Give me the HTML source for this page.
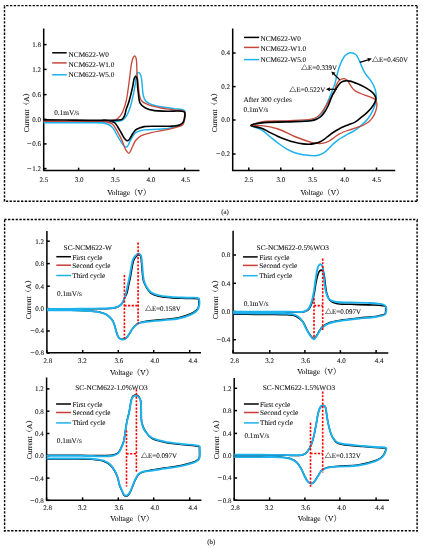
<!DOCTYPE html>
<html><head><meta charset="utf-8"><style>
html,body{margin:0;padding:0;background:#fff;}
svg{display:block;}
text{font-family:'Liberation Serif','Noto Serif CJK SC',serif;fill:#111;stroke:#111;stroke-width:0.08px;text-rendering:geometricPrecision;}
</style></head><body>
<svg width="423" height="550" viewBox="0 0 423 550">
<rect width="423" height="550" fill="#fff"/>
<path d="M3.80 5.60L417.80 5.60" stroke="#000" stroke-width="1.40" stroke-dasharray="2.30 1.485" stroke-dashoffset="1.435"/>
<path d="M3.80 201.30L417.80 201.30" stroke="#000" stroke-width="1.40" stroke-dasharray="2.30 1.485" stroke-dashoffset="1.735"/>
<path d="M4.50 4.90L4.50 202.00" stroke="#000" stroke-width="1.40" stroke-dasharray="2.30 1.482" stroke-dashoffset="2.532"/>
<path d="M417.10 4.90L417.10 202.00" stroke="#000" stroke-width="1.40" stroke-dasharray="2.30 1.482" stroke-dashoffset="2.532"/>
<path d="M3.90 219.50L417.80 219.50" stroke="#000" stroke-width="1.40" stroke-dasharray="2.30 1.485" stroke-dashoffset="3.435"/>
<path d="M3.90 530.80L417.80 530.80" stroke="#000" stroke-width="1.40" stroke-dasharray="2.30 1.485" stroke-dashoffset="0.350"/>
<path d="M4.60 218.80L4.60 531.50" stroke="#000" stroke-width="1.40" stroke-dasharray="2.30 1.482" stroke-dashoffset="2.532"/>
<path d="M417.10 218.80L417.10 531.50" stroke="#000" stroke-width="1.40" stroke-dasharray="2.30 1.482" stroke-dashoffset="2.532"/>
<text x="225.0" y="213.5" font-size="6.80" text-anchor="middle">(a)</text>
<text x="211.3" y="543.6" font-size="6.80" text-anchor="middle">(b)</text>
<path d="M43.7 28.4V170.6H199.5" fill="none" stroke="#000" stroke-width="1.50"/>
<path d="M43.7 44.6h2.9" stroke="#000" stroke-width="1.50"/>
<text x="40.9" y="47.0" font-size="7.00" text-anchor="end">1.8</text>
<path d="M43.7 69.4h2.9" stroke="#000" stroke-width="1.50"/>
<text x="40.9" y="71.8" font-size="7.00" text-anchor="end">1.2</text>
<path d="M43.7 94.6h2.9" stroke="#000" stroke-width="1.50"/>
<text x="40.9" y="97.0" font-size="7.00" text-anchor="end">0.6</text>
<path d="M43.7 119.4h2.9" stroke="#000" stroke-width="1.50"/>
<text x="40.9" y="121.8" font-size="7.00" text-anchor="end">0.0</text>
<path d="M43.7 143.9h2.9" stroke="#000" stroke-width="1.50"/>
<text x="40.9" y="146.3" font-size="7.00" text-anchor="end"><tspan font-size="8">−</tspan><tspan dx="0.6">0.6</tspan></text>
<path d="M43.7 168.6h2.9" stroke="#000" stroke-width="1.50"/>
<text x="40.9" y="171.0" font-size="7.00" text-anchor="end"><tspan font-size="8">−</tspan><tspan dx="0.6">1.2</tspan></text>
<path d="M43.7 170.6v-2.9" stroke="#000" stroke-width="1.50"/>
<text x="43.9" y="182.3" font-size="7.00" text-anchor="middle">2.5</text>
<path d="M78.6 170.6v-2.9" stroke="#000" stroke-width="1.50"/>
<text x="79.0" y="182.3" font-size="7.00" text-anchor="middle">3.0</text>
<path d="M114.2 170.6v-2.9" stroke="#000" stroke-width="1.50"/>
<text x="115.4" y="182.3" font-size="7.00" text-anchor="middle">3.5</text>
<path d="M149.3 170.6v-2.9" stroke="#000" stroke-width="1.50"/>
<text x="150.8" y="182.3" font-size="7.00" text-anchor="middle">4.0</text>
<path d="M184.7 170.6v-2.9" stroke="#000" stroke-width="1.50"/>
<text x="185.7" y="182.3" font-size="7.00" text-anchor="middle">4.5</text>
<text x="0" y="0" font-size="7.50" text-anchor="middle" transform="translate(28.8 110.6) rotate(-90)">Current（A）</text>
<text x="128.9" y="194.8" font-size="7.50" text-anchor="middle">Voltage（V）</text>
<path d="M52.2 52.8H66.7" stroke="#000" stroke-width="1.5"/>
<text x="68.6" y="57.1" font-size="7.25" text-anchor="start">NCM622-W0</text>
<path d="M52.2 62.9H66.7" stroke="#C64A3C" stroke-width="1.5"/>
<text x="68.6" y="66.9" font-size="7.25" text-anchor="start">NCM622-W1.0</text>
<path d="M52.2 74.8H66.7" stroke="#1CB2EE" stroke-width="1.5"/>
<text x="68.6" y="77.0" font-size="7.25" text-anchor="start">NCM622-W5.0</text>
<text x="54.2" y="115.3" font-size="7.30" text-anchor="start">0.1mV/s</text>
<path d="M43.60 122.70 C59.07 122.70 79.38 122.57 90.00 122.70 C95.56 122.77 99.29 122.53 102.70 123.00 C105.06 123.32 106.83 123.58 108.60 124.50 C110.40 125.43 112.05 126.94 113.40 128.60 C114.85 130.39 115.64 132.83 116.90 135.00 C118.23 137.30 119.82 139.95 121.20 142.00 C122.34 143.69 123.38 145.76 124.50 146.50 C125.19 146.96 125.98 147.22 126.60 147.00 C127.35 146.73 127.95 145.43 128.50 144.50 C129.09 143.51 129.42 142.39 130.00 141.20 C130.71 139.76 131.53 137.94 132.50 136.50 C133.44 135.11 134.47 133.63 135.70 132.70 C136.83 131.85 138.14 131.46 139.50 131.00 C140.96 130.51 142.19 130.18 144.20 129.90 C147.64 129.42 154.09 129.46 158.40 129.20 C162.00 128.98 165.15 129.01 168.30 128.50 C171.26 128.02 174.29 127.23 176.80 126.30 C178.93 125.51 181.22 124.79 182.50 123.50 C183.57 122.42 184.01 121.15 184.40 119.50 C184.95 117.16 186.09 112.44 184.60 110.60 C182.96 108.57 177.72 109.22 174.00 108.60 C169.89 107.91 165.07 107.50 161.00 106.70 C157.32 105.97 153.40 105.30 150.60 104.10 C148.48 103.19 146.63 102.31 145.40 100.80 C144.16 99.28 143.70 97.06 143.20 95.00 C142.67 92.81 142.61 90.16 142.40 88.00 C142.22 86.14 142.25 84.73 142.00 82.80 C141.68 80.35 141.52 76.25 140.50 74.50 C139.87 73.41 138.71 72.30 138.00 72.40 C137.31 72.50 136.71 73.84 136.30 75.00 C135.64 76.85 135.98 79.65 135.50 82.80 C134.75 87.74 132.95 96.70 131.70 101.70 C130.86 105.05 130.15 107.46 129.20 110.00 C128.36 112.25 127.57 114.48 126.40 116.20 C125.38 117.70 124.21 119.03 122.80 119.90 C121.41 120.76 120.14 121.05 118.00 121.40 C113.94 122.07 107.67 121.71 100.00 121.80 C86.43 121.95 62.40 121.80 43.60 121.80" fill="none" stroke="#1CB2EE" stroke-width="1.45" stroke-linejoin="round"/>
<path d="M43.60 121.40 C63.73 121.40 97.43 120.83 104.00 121.40 C105.29 121.51 105.37 121.56 106.30 121.80 C107.83 122.20 110.62 122.73 112.20 123.90 C113.73 125.03 114.58 126.87 115.70 128.60 C116.96 130.53 118.18 132.89 119.30 135.00 C120.37 137.02 121.37 138.86 122.30 141.00 C123.32 143.34 124.12 146.51 125.10 148.50 C125.81 149.93 126.53 151.19 127.30 152.00 C127.85 152.58 128.47 153.30 129.00 153.20 C129.66 153.08 130.23 151.54 130.80 150.50 C131.51 149.22 132.04 147.56 132.80 146.00 C133.65 144.24 134.38 142.17 135.70 140.50 C137.14 138.67 139.00 136.86 141.30 135.60 C144.02 134.11 147.65 133.59 151.30 132.70 C155.60 131.66 161.05 130.89 165.50 129.90 C169.49 129.01 173.70 128.08 176.80 127.10 C179.05 126.39 181.23 126.12 182.50 124.90 C183.63 123.82 184.02 122.25 184.40 120.50 C184.91 118.15 186.05 113.70 184.60 111.90 C182.97 109.89 177.72 110.52 174.00 109.90 C169.89 109.21 165.31 108.86 161.00 108.00 C156.64 107.13 151.50 106.16 148.00 104.70 C145.37 103.60 142.94 102.54 141.50 100.80 C140.21 99.23 139.91 97.16 139.40 95.00 C138.80 92.45 138.75 89.60 138.40 86.40 C137.96 82.36 137.32 77.09 137.00 72.70 C136.71 68.65 136.82 63.82 136.50 61.00 C136.32 59.38 136.23 58.10 135.80 57.20 C135.52 56.60 135.10 55.92 134.70 55.90 C134.27 55.88 133.72 56.59 133.30 57.30 C132.54 58.59 132.02 61.07 131.50 63.60 C130.74 67.27 130.30 72.74 129.70 77.30 C129.10 81.84 128.52 86.77 127.90 90.90 C127.38 94.38 127.06 97.29 126.30 100.50 C125.51 103.83 124.34 107.77 123.20 110.50 C122.36 112.53 121.70 114.08 120.50 115.60 C119.24 117.20 117.64 118.89 115.70 119.80 C113.55 120.80 111.83 120.70 108.00 121.00 C96.99 121.85 65.07 121.00 43.60 121.00" fill="none" stroke="#C64A3C" stroke-width="1.35" stroke-linejoin="round"/>
<path d="M43.60 120.00 C62.40 120.07 89.44 120.06 100.00 120.20 C104.12 120.26 106.03 119.89 108.60 120.40 C110.82 120.84 113.00 121.48 114.60 122.70 C116.14 123.88 116.98 125.78 118.10 127.50 C119.32 129.36 120.49 131.59 121.60 133.50 C122.61 135.24 123.53 137.24 124.50 138.50 C125.20 139.41 125.89 140.33 126.60 140.60 C127.13 140.80 127.70 140.75 128.20 140.50 C128.86 140.17 129.39 139.26 130.00 138.40 C130.82 137.23 131.56 135.41 132.50 134.00 C133.45 132.57 134.42 130.94 135.70 129.90 C136.93 128.90 138.55 128.36 140.00 127.80 C141.39 127.27 142.36 126.88 144.20 126.60 C147.51 126.10 153.67 126.38 158.40 126.30 C163.13 126.22 168.71 126.46 172.60 126.10 C175.35 125.85 177.73 125.72 179.60 124.90 C181.10 124.24 182.37 123.34 183.20 122.10 C184.09 120.76 184.39 118.69 184.60 117.00 C184.80 115.39 185.57 113.31 184.50 112.20 C182.49 110.12 172.79 111.48 167.50 111.20 C162.88 110.96 158.41 111.24 154.50 110.60 C151.16 110.05 147.89 109.36 145.40 108.00 C143.27 106.83 141.39 105.50 140.20 103.40 C138.73 100.80 138.75 96.06 138.30 93.00 C137.95 90.62 137.81 88.86 137.60 86.60 C137.37 84.06 137.62 80.33 137.00 78.50 C136.64 77.44 135.97 76.19 135.50 76.20 C135.04 76.21 134.58 77.46 134.20 78.50 C133.53 80.34 133.38 83.50 132.70 86.60 C131.77 90.87 130.18 97.44 128.90 101.70 C127.94 104.90 126.75 107.49 126.00 110.00 C125.39 112.03 125.31 113.99 124.60 115.60 C123.98 116.99 122.95 118.54 122.20 119.20 C121.78 119.57 121.75 119.62 121.00 119.80 C115.31 121.14 69.40 119.80 43.60 119.80" fill="none" stroke="#000" stroke-width="1.60" stroke-linejoin="round"/>
<path d="M232.7 28.5V170.4H395.2" fill="none" stroke="#000" stroke-width="1.50"/>
<path d="M232.7 53.0h2.9" stroke="#000" stroke-width="1.50"/>
<text x="229.9" y="55.4" font-size="7.00" text-anchor="end">0.4</text>
<path d="M232.7 86.6h2.9" stroke="#000" stroke-width="1.50"/>
<text x="229.9" y="89.0" font-size="7.00" text-anchor="end">0.2</text>
<path d="M232.7 120.0h2.9" stroke="#000" stroke-width="1.50"/>
<text x="229.9" y="122.4" font-size="7.00" text-anchor="end">0.0</text>
<path d="M232.7 154.0h2.9" stroke="#000" stroke-width="1.50"/>
<text x="229.9" y="156.4" font-size="7.00" text-anchor="end"><tspan font-size="8">−</tspan><tspan dx="0.6">0.2</tspan></text>
<path d="M248.8 170.4v-2.9" stroke="#000" stroke-width="1.50"/>
<text x="248.8" y="182.3" font-size="7.00" text-anchor="middle">2.5</text>
<path d="M280.8 170.4v-2.9" stroke="#000" stroke-width="1.50"/>
<text x="280.8" y="182.3" font-size="7.00" text-anchor="middle">3.0</text>
<path d="M312.7 170.4v-2.9" stroke="#000" stroke-width="1.50"/>
<text x="312.7" y="182.3" font-size="7.00" text-anchor="middle">3.5</text>
<path d="M344.6 170.4v-2.9" stroke="#000" stroke-width="1.50"/>
<text x="344.6" y="182.3" font-size="7.00" text-anchor="middle">4.0</text>
<path d="M376.5 170.4v-2.9" stroke="#000" stroke-width="1.50"/>
<text x="376.5" y="182.3" font-size="7.00" text-anchor="middle">4.5</text>
<text x="0" y="0" font-size="7.50" text-anchor="middle" transform="translate(216.7 110.6) rotate(-90)">Current（A）</text>
<text x="322.0" y="194.7" font-size="7.50" text-anchor="middle">Voltage（V）</text>
<path d="M244.0 37.4H259.2" stroke="#000" stroke-width="1.5"/>
<text x="260.5" y="40.5" font-size="7.25" text-anchor="start">NCM622-W0</text>
<path d="M244.0 47.4H259.2" stroke="#C64A3C" stroke-width="1.5"/>
<text x="260.5" y="51.0" font-size="7.25" text-anchor="start">NCM622-W1.0</text>
<path d="M244.0 59.6H259.2" stroke="#1CB2EE" stroke-width="1.5"/>
<text x="260.5" y="62.0" font-size="7.25" text-anchor="start">NCM622-W5.0</text>
<text x="243.5" y="101.8" font-size="7.30" text-anchor="start">After 300 cycles</text>
<text x="243.5" y="112.4" font-size="7.30" text-anchor="start">0.1mV/s</text>
<text x="301.0" y="70.2" font-size="7.00" text-anchor="start">△E=0.339V</text>
<text x="289.2" y="91.7" font-size="7.00" text-anchor="start">△E=0.522V</text>
<text x="372.0" y="62.1" font-size="7.00" text-anchor="start">△E=0.450V</text>
<path d="M250.80 125.60 C250.86 124.38 257.21 123.23 261.60 122.50 C268.12 121.42 278.13 121.67 286.40 121.30 C294.67 120.93 305.85 121.22 311.20 120.30 C313.85 119.84 315.33 119.30 317.00 118.50 C318.43 117.81 319.50 117.37 320.70 116.00 C322.76 113.65 324.77 108.16 326.60 104.20 C328.40 100.29 330.39 95.39 331.60 92.40 C332.33 90.59 332.75 89.43 333.30 88.00 C333.82 86.64 334.31 85.59 334.80 84.00 C335.49 81.75 336.07 78.45 336.80 75.70 C337.53 72.95 338.30 70.12 339.20 67.50 C340.05 65.03 340.90 62.53 342.00 60.40 C343.00 58.48 343.95 56.49 345.40 55.20 C346.78 53.97 348.68 52.82 350.40 52.70 C352.12 52.58 354.26 53.35 355.70 54.50 C357.30 55.78 358.30 58.39 359.30 60.40 C360.25 62.33 360.69 64.27 361.60 66.30 C362.62 68.58 363.79 71.21 365.20 73.40 C366.57 75.53 368.49 77.29 369.90 79.30 C371.25 81.23 372.52 83.11 373.50 85.20 C374.50 87.33 375.35 89.73 375.80 92.00 C376.22 94.16 376.29 96.51 376.20 98.50 C376.13 100.20 375.90 101.60 375.50 103.20 C375.06 104.96 374.35 106.81 373.60 108.60 C372.82 110.45 371.93 112.31 370.90 114.10 C369.84 115.94 368.67 117.83 367.30 119.50 C365.93 121.17 364.33 122.61 362.70 124.10 C361.01 125.65 359.13 127.26 357.30 128.60 C355.56 129.87 353.66 131.07 352.00 132.00 C350.62 132.77 349.44 133.17 348.10 133.90 C346.59 134.72 344.97 135.76 343.40 136.70 C341.81 137.66 340.16 138.51 338.60 139.60 C336.99 140.73 335.43 142.02 333.90 143.40 C332.29 144.84 330.78 146.59 329.20 148.10 C327.65 149.58 326.16 151.28 324.50 152.40 C322.98 153.43 321.33 154.15 319.70 154.70 C318.16 155.23 316.49 155.58 315.00 155.70 C313.67 155.80 312.71 155.61 311.20 155.50 C308.98 155.33 305.73 155.16 303.00 154.70 C300.23 154.23 297.42 153.64 294.70 152.70 C291.89 151.73 289.10 150.44 286.40 148.90 C283.56 147.27 280.84 145.14 278.10 143.10 C275.30 141.01 272.56 138.70 269.80 136.50 C267.06 134.30 264.67 131.69 261.60 129.90 C258.37 128.02 250.74 126.84 250.80 125.60Z" fill="none" stroke="#1CB2EE" stroke-width="1.45" stroke-linejoin="round"/>
<path d="M250.80 125.60 C250.70 124.97 257.19 122.74 261.60 121.90 C268.10 120.67 278.14 121.27 286.40 120.80 C294.67 120.33 305.86 120.23 311.20 119.10 C313.86 118.54 315.36 117.99 317.00 117.00 C318.48 116.10 319.44 115.04 320.70 113.60 C322.41 111.64 324.46 108.41 326.00 106.00 C327.34 103.91 328.30 101.99 329.50 100.00 C330.70 97.99 332.25 95.37 333.20 94.00 C333.72 93.24 334.11 93.12 334.50 92.30 C335.22 90.79 335.33 87.26 336.20 85.20 C336.96 83.40 337.87 81.59 339.20 80.50 C340.47 79.47 342.45 78.63 343.90 78.70 C345.19 78.76 346.47 79.56 347.50 80.50 C348.70 81.60 349.29 83.62 350.40 85.20 C351.63 86.95 352.90 89.11 354.60 90.50 C356.28 91.87 358.25 92.52 360.50 93.50 C363.34 94.73 367.74 95.94 370.40 97.10 C372.29 97.92 374.02 98.38 375.10 99.50 C376.05 100.49 376.55 101.81 376.80 103.20 C377.09 104.80 376.77 106.82 376.40 108.60 C376.02 110.45 375.29 112.40 374.50 114.10 C373.75 115.72 372.86 117.23 371.80 118.60 C370.75 119.96 369.55 121.24 368.20 122.30 C366.82 123.38 365.29 124.19 363.60 125.00 C361.70 125.91 359.41 126.65 357.30 127.40 C355.21 128.15 352.70 128.98 351.00 129.50 C349.85 129.85 349.18 129.96 348.10 130.30 C346.71 130.74 344.96 131.33 343.40 132.00 C341.79 132.69 340.16 133.47 338.60 134.40 C336.99 135.36 335.47 136.60 333.90 137.70 C332.33 138.80 330.82 140.12 329.20 141.00 C327.68 141.83 326.16 142.47 324.50 142.90 C322.77 143.35 320.69 143.58 319.00 143.60 C317.56 143.62 316.31 143.42 315.00 143.20 C313.71 142.98 312.89 142.80 311.20 142.30 C307.61 141.25 300.16 138.69 294.70 136.50 C289.13 134.27 283.73 130.81 278.10 129.00 C272.69 127.26 266.54 126.21 261.60 125.70 C257.64 125.29 250.90 126.21 250.80 125.60Z" fill="none" stroke="#C64A3C" stroke-width="1.35" stroke-linejoin="round"/>
<path d="M250.80 125.60 C250.80 124.72 257.22 123.53 261.60 122.90 C268.14 121.96 278.13 122.25 286.40 121.90 C294.67 121.55 306.00 121.64 311.20 120.80 C313.65 120.40 314.85 120.03 316.50 119.30 C318.12 118.59 319.77 117.55 321.00 116.50 C322.07 115.59 322.69 114.76 323.60 113.50 C324.91 111.70 326.45 109.20 327.80 106.50 C329.48 103.13 331.19 97.61 332.60 94.70 C333.47 92.91 334.25 91.76 335.00 90.50 C335.63 89.44 336.07 88.67 336.80 87.60 C337.77 86.18 339.06 83.90 340.40 82.80 C341.48 81.91 342.54 81.41 343.90 81.10 C345.57 80.71 347.70 80.74 349.80 81.10 C352.37 81.54 355.37 82.85 358.10 84.00 C360.90 85.18 363.81 86.50 366.40 88.10 C368.94 89.67 371.89 91.52 373.50 93.50 C374.77 95.06 375.77 96.83 375.90 98.50 C376.02 100.07 375.23 101.63 374.50 103.20 C373.65 105.00 372.25 106.93 370.90 108.60 C369.55 110.26 368.02 111.72 366.40 113.20 C364.70 114.76 362.78 116.23 360.90 117.70 C358.98 119.20 357.13 120.90 355.00 122.10 C352.86 123.31 350.18 124.06 348.10 124.90 C346.38 125.60 344.96 126.10 343.40 126.80 C341.79 127.52 340.18 128.34 338.60 129.20 C337.01 130.07 335.45 131.00 333.90 132.00 C332.31 133.03 330.75 134.13 329.20 135.30 C327.61 136.50 326.11 137.97 324.50 139.10 C322.94 140.19 321.34 141.27 319.70 142.00 C318.17 142.68 316.68 143.03 315.00 143.40 C313.14 143.82 311.00 144.22 309.00 144.30 C307.00 144.38 305.15 144.18 303.00 143.90 C300.45 143.57 297.45 142.98 294.70 142.30 C291.92 141.61 289.15 140.76 286.40 139.80 C283.61 138.83 280.84 137.72 278.10 136.50 C275.31 135.26 272.55 133.79 269.80 132.40 C267.05 131.02 264.59 129.31 261.60 128.20 C258.31 126.98 250.80 126.48 250.80 125.60Z" fill="none" stroke="#000" stroke-width="1.60" stroke-linejoin="round"/>
<path d="M359.8 62.4L368.0 59.8" stroke="#000" stroke-width="1.3"/>
<path d="M371.8 58.6L368.6 61.7L367.4 57.9Z" fill="#000"/>
<path d="M339.8 79.9L334.1 74.2" stroke="#000" stroke-width="1.3"/>
<path d="M331.3 71.4L335.5 72.8L332.7 75.6Z" fill="#000"/>
<path d="M336.8 89.3L329.9 89.3" stroke="#000" stroke-width="1.3"/>
<path d="M325.9 89.3L329.9 87.3L329.9 91.3Z" fill="#000"/>
<path d="M46.9 231.0V352.8H201.0" fill="none" stroke="#000" stroke-width="1.50"/>
<path d="M46.9 241.2h2.9" stroke="#000" stroke-width="1.50"/>
<text x="44.1" y="243.6" font-size="7.00" text-anchor="end">1.2</text>
<path d="M46.9 263.6h2.9" stroke="#000" stroke-width="1.50"/>
<text x="44.1" y="266.0" font-size="7.00" text-anchor="end">0.8</text>
<path d="M46.9 286.2h2.9" stroke="#000" stroke-width="1.50"/>
<text x="44.1" y="288.6" font-size="7.00" text-anchor="end">0.4</text>
<path d="M46.9 308.6h2.9" stroke="#000" stroke-width="1.50"/>
<text x="44.1" y="311.0" font-size="7.00" text-anchor="end">0.0</text>
<path d="M46.9 331.0h2.9" stroke="#000" stroke-width="1.50"/>
<text x="44.1" y="333.4" font-size="7.00" text-anchor="end"><tspan font-size="8">−</tspan><tspan dx="0.6">0.4</tspan></text>
<path d="M46.9 353.0h2.9" stroke="#000" stroke-width="1.50"/>
<text x="44.1" y="355.4" font-size="7.00" text-anchor="end"><tspan font-size="8">−</tspan><tspan dx="0.6">0.8</tspan></text>
<path d="M46.9 352.8v-2.9" stroke="#000" stroke-width="1.50"/>
<text x="47.9" y="362.6" font-size="7.00" text-anchor="middle">2.8</text>
<path d="M82.7 352.8v-2.9" stroke="#000" stroke-width="1.50"/>
<text x="82.3" y="362.6" font-size="7.00" text-anchor="middle">3.2</text>
<path d="M118.3 352.8v-2.9" stroke="#000" stroke-width="1.50"/>
<text x="118.8" y="362.6" font-size="7.00" text-anchor="middle">3.6</text>
<path d="M153.7 352.8v-2.9" stroke="#000" stroke-width="1.50"/>
<text x="154.9" y="362.6" font-size="7.00" text-anchor="middle">4.0</text>
<path d="M189.7 352.8v-2.9" stroke="#000" stroke-width="1.50"/>
<text x="192.9" y="362.6" font-size="7.00" text-anchor="middle">4.4</text>
<text x="0" y="0" font-size="7.50" text-anchor="middle" transform="translate(31.4 297.7) rotate(-90)">Current（A）</text>
<text x="131.6" y="374.5" font-size="7.50" text-anchor="middle">Voltage（V）</text>
<text x="63.6" y="249.9" font-size="7.30" text-anchor="start">SC-NCM622-W</text>
<path d="M56.3 256.7H71.0" stroke="#000" stroke-width="1.5"/>
<text x="72.3" y="260.1" font-size="7.20" text-anchor="start">First cycle</text>
<path d="M56.3 265.2H71.0" stroke="#C83C36" stroke-width="1.5"/>
<text x="72.3" y="268.3" font-size="7.20" text-anchor="start">Second cycle</text>
<path d="M56.3 275.5H71.0" stroke="#1CB2EE" stroke-width="1.5"/>
<text x="72.3" y="277.9" font-size="7.20" text-anchor="start">Third cycle</text>
<text x="57.0" y="295.9" font-size="7.30" text-anchor="start">0.1mV/s</text>
<text x="144.9" y="311.0" font-size="7.00" text-anchor="start">△E=0.158V</text>
<path d="M46.90 309.15 C54.60 309.12 62.15 309.11 70.00 309.05 C78.17 308.98 87.79 308.87 95.00 308.75 C100.49 308.66 105.47 308.81 109.50 308.45 C112.42 308.19 114.98 308.01 117.00 307.25 C118.55 306.66 119.75 305.83 120.80 304.85 C121.80 303.91 122.54 302.74 123.20 301.55 C123.87 300.34 124.21 299.01 124.80 297.65 C125.46 296.14 126.38 294.74 127.00 292.90 C127.79 290.55 128.20 287.37 128.80 284.60 C129.40 281.83 130.09 278.96 130.60 276.30 C131.07 273.85 131.34 271.65 131.80 269.20 C132.30 266.56 132.66 263.23 133.50 261.00 C134.14 259.31 134.95 257.87 135.90 256.80 C136.69 255.91 137.76 254.85 138.60 254.80 C139.28 254.76 140.03 255.20 140.50 255.90 C141.36 257.17 141.21 260.46 141.50 263.00 C141.83 265.93 141.98 269.49 142.30 272.50 C142.59 275.23 142.63 277.84 143.30 280.30 C143.95 282.67 144.97 284.89 146.20 287.00 C147.46 289.16 148.81 291.58 150.80 293.10 C152.87 294.69 155.58 295.45 158.50 296.20 C162.07 297.12 166.46 297.32 170.80 297.70 C175.64 298.12 181.34 298.26 186.20 298.50 C190.56 298.72 197.62 298.18 198.60 299.10 C198.86 299.35 198.68 299.57 198.70 300.00 C198.76 301.06 198.91 303.97 198.70 305.50 C198.55 306.63 198.34 307.56 197.90 308.40 C197.49 309.18 197.00 309.71 196.20 310.40 C194.96 311.48 193.05 312.76 190.80 313.80 C187.60 315.28 182.88 316.76 178.50 317.70 C173.68 318.73 168.02 318.99 163.00 319.50 C158.27 319.98 153.26 320.09 149.20 320.70 C145.95 321.18 142.37 322.03 140.50 322.55 C139.59 322.81 139.19 322.91 138.50 323.25 C137.67 323.66 136.79 324.18 135.90 324.95 C134.71 325.98 133.30 327.66 132.20 329.15 C131.10 330.63 130.29 332.39 129.30 333.85 C128.39 335.20 127.49 336.73 126.50 337.65 C125.73 338.36 124.97 338.90 124.10 339.15 C123.24 339.40 122.16 339.40 121.30 339.15 C120.43 338.90 119.57 338.39 118.90 337.65 C118.08 336.74 117.57 335.32 117.00 333.85 C116.27 331.98 115.76 329.36 115.10 327.25 C114.49 325.27 114.06 323.19 113.20 321.55 C112.44 320.11 111.54 319.03 110.40 317.85 C109.10 316.51 107.44 315.00 105.70 314.05 C103.97 313.10 101.86 312.59 100.00 312.15 C98.30 311.75 96.96 311.67 95.00 311.45 C92.24 311.15 88.67 310.85 85.00 310.65 C80.51 310.41 75.54 310.34 70.00 310.25 C63.13 310.14 54.60 310.18 46.90 310.15" fill="none" stroke="#000" stroke-width="1.50" stroke-linejoin="round"/>
<path d="M46.90 309.00 C54.60 308.97 62.15 308.96 70.00 308.90 C78.17 308.83 87.79 308.72 95.00 308.60 C100.49 308.51 105.47 308.66 109.50 308.30 C112.42 308.04 114.98 307.86 117.00 307.10 C118.55 306.51 119.75 305.68 120.80 304.70 C121.80 303.76 122.54 302.59 123.20 301.40 C123.87 300.19 124.32 298.91 124.80 297.50 C125.34 295.91 125.73 294.24 126.20 292.30 C126.79 289.86 127.40 286.77 128.00 284.00 C128.60 281.23 129.29 278.36 129.80 275.70 C130.27 273.25 130.54 271.05 131.00 268.60 C131.50 265.96 131.86 262.63 132.70 260.40 C133.34 258.71 134.09 257.37 135.10 256.20 C136.07 255.09 137.55 253.47 138.60 253.50 C139.49 253.53 140.43 254.55 141.00 255.60 C141.85 257.18 141.71 260.16 142.00 262.70 C142.33 265.63 142.48 269.19 142.80 272.20 C143.09 274.93 143.19 277.58 143.80 280.00 C144.36 282.22 145.10 284.22 146.20 286.20 C147.38 288.33 148.81 290.78 150.80 292.30 C152.87 293.89 155.58 294.65 158.50 295.40 C162.07 296.32 166.46 296.52 170.80 296.90 C175.64 297.32 181.34 297.46 186.20 297.70 C190.56 297.92 197.08 297.17 198.60 298.30 C199.18 298.73 199.07 299.26 199.20 300.00 C199.42 301.30 199.48 303.87 199.20 305.50 C198.97 306.88 198.48 308.20 197.90 309.20 C197.43 310.02 197.00 310.51 196.20 311.20 C194.96 312.28 193.05 313.56 190.80 314.60 C187.60 316.08 182.88 317.56 178.50 318.50 C173.68 319.53 168.02 319.79 163.00 320.30 C158.27 320.78 153.27 321.04 149.20 321.50 C145.96 321.86 142.37 322.25 140.50 322.70 C139.58 322.92 139.19 323.06 138.50 323.40 C137.67 323.81 136.79 324.33 135.90 325.10 C134.71 326.13 133.30 327.81 132.20 329.30 C131.10 330.78 130.29 332.54 129.30 334.00 C128.39 335.35 127.49 336.88 126.50 337.80 C125.73 338.51 124.97 339.05 124.10 339.30 C123.24 339.55 122.16 339.55 121.30 339.30 C120.43 339.05 119.57 338.54 118.90 337.80 C118.08 336.89 117.57 335.47 117.00 334.00 C116.27 332.13 115.76 329.51 115.10 327.40 C114.49 325.42 114.06 323.34 113.20 321.70 C112.44 320.26 111.54 319.18 110.40 318.00 C109.10 316.66 107.44 315.15 105.70 314.20 C103.97 313.25 101.86 312.74 100.00 312.30 C98.30 311.90 96.96 311.82 95.00 311.60 C92.24 311.30 88.67 311.00 85.00 310.80 C80.51 310.56 75.54 310.49 70.00 310.40 C63.13 310.29 54.60 310.33 46.90 310.30" fill="none" stroke="#1CB2EE" stroke-width="1.90" stroke-linejoin="round"/>
<path d="M124.4 275V339" fill="none" stroke="#FF0000" stroke-width="1.6" stroke-dasharray="2.2 1.45"/>
<path d="M138.1 242.5V324" fill="none" stroke="#FF0000" stroke-width="1.6" stroke-dasharray="2.2 1.45"/>
<path d="M124.4 305.6H138.1" fill="none" stroke="#FF0000" stroke-width="1.6" stroke-dasharray="2.2 1.45"/>
<path d="M233.1 230.7V353.0H388.3" fill="none" stroke="#000" stroke-width="1.50"/>
<path d="M233.1 255.0h2.9" stroke="#000" stroke-width="1.50"/>
<text x="230.3" y="257.4" font-size="7.00" text-anchor="end">0.8</text>
<path d="M233.1 283.3h2.9" stroke="#000" stroke-width="1.50"/>
<text x="230.3" y="285.7" font-size="7.00" text-anchor="end">0.4</text>
<path d="M233.1 311.5h2.9" stroke="#000" stroke-width="1.50"/>
<text x="230.3" y="313.9" font-size="7.00" text-anchor="end">0.0</text>
<path d="M233.1 339.7h2.9" stroke="#000" stroke-width="1.50"/>
<text x="230.3" y="342.1" font-size="7.00" text-anchor="end"><tspan font-size="8">−</tspan><tspan dx="0.6">0.4</tspan></text>
<path d="M233.1 353.0v-2.9" stroke="#000" stroke-width="1.50"/>
<text x="234.5" y="362.6" font-size="7.00" text-anchor="middle">2.8</text>
<path d="M269.8 353.0v-2.9" stroke="#000" stroke-width="1.50"/>
<text x="269.6" y="362.6" font-size="7.00" text-anchor="middle">3.2</text>
<path d="M304.9 353.0v-2.9" stroke="#000" stroke-width="1.50"/>
<text x="305.6" y="362.6" font-size="7.00" text-anchor="middle">3.6</text>
<path d="M340.4 353.0v-2.9" stroke="#000" stroke-width="1.50"/>
<text x="341.3" y="362.6" font-size="7.00" text-anchor="middle">4.0</text>
<path d="M376.1 353.0v-2.9" stroke="#000" stroke-width="1.50"/>
<text x="379.0" y="362.6" font-size="7.00" text-anchor="middle">4.4</text>
<text x="0" y="0" font-size="7.50" text-anchor="middle" transform="translate(218.1 297.7) rotate(-90)">Current（A）</text>
<text x="318.8" y="374.4" font-size="7.50" text-anchor="middle">Voltage（V）</text>
<text x="256.6" y="250.0" font-size="7.30" text-anchor="start">SC-NCM622-0.5%WO3</text>
<path d="M243.0 256.9H257.7" stroke="#000" stroke-width="1.5"/>
<text x="259.2" y="259.9" font-size="7.20" text-anchor="start">First cycle</text>
<path d="M243.0 265.4H257.7" stroke="#C83C36" stroke-width="1.5"/>
<text x="259.2" y="268.1" font-size="7.20" text-anchor="start">Second cycle</text>
<path d="M243.0 275.7H257.7" stroke="#1CB2EE" stroke-width="1.5"/>
<text x="259.2" y="278.0" font-size="7.20" text-anchor="start">Third cycle</text>
<text x="243.7" y="305.6" font-size="7.30" text-anchor="start">0.1mV/s</text>
<text x="325.0" y="313.8" font-size="7.00" text-anchor="start">△E=0.097V</text>
<path d="M233.10 311.80 C245.40 311.80 259.57 311.77 270.00 311.80 C277.68 311.82 284.00 311.88 290.00 311.90 C294.91 311.91 300.11 312.59 303.40 311.90 C305.46 311.47 306.95 310.86 308.20 309.80 C309.39 308.79 310.06 307.31 310.80 305.80 C311.63 304.09 312.22 302.08 312.80 300.00 C313.45 297.68 313.88 295.27 314.40 292.50 C315.05 289.08 315.57 284.41 316.30 281.00 C316.90 278.22 317.60 275.30 318.30 273.50 C318.72 272.41 319.04 271.58 319.60 271.00 C320.05 270.53 320.67 270.10 321.20 270.10 C321.73 270.10 322.37 270.53 322.80 271.00 C323.32 271.58 323.60 272.45 323.90 273.50 C324.36 275.13 324.47 277.53 324.80 280.00 C325.24 283.29 325.59 288.31 326.30 291.50 C326.82 293.85 327.46 295.91 328.20 297.50 C328.74 298.65 329.06 299.44 330.00 300.30 C331.37 301.56 333.68 302.89 336.30 303.60 C340.00 304.61 345.51 304.09 350.50 304.30 C356.07 304.53 362.63 304.67 368.20 304.90 C373.19 305.11 379.37 305.06 382.40 305.60 C383.87 305.86 385.13 306.00 385.60 306.60 C385.94 307.03 385.69 307.62 385.70 308.30 C385.72 309.30 385.77 310.98 385.60 312.00 C385.47 312.75 385.56 313.35 385.00 313.90 C383.85 315.02 380.22 315.58 377.00 316.20 C372.29 317.11 365.20 317.35 359.30 318.00 C353.40 318.65 346.96 319.20 341.60 320.10 C337.08 320.86 332.66 321.40 329.20 322.80 C326.39 323.94 323.79 325.65 322.10 327.20 C320.88 328.32 320.35 329.42 319.50 330.70 C318.54 332.15 317.74 334.13 316.70 335.50 C315.78 336.71 314.74 338.60 313.70 338.60 C312.58 338.60 311.30 336.42 310.20 335.00 C308.91 333.33 307.75 331.18 306.60 329.10 C305.37 326.87 304.45 323.85 303.10 322.00 C302.04 320.55 300.92 319.62 299.60 318.60 C298.18 317.50 296.63 316.34 294.80 315.70 C292.73 314.98 290.60 315.02 287.70 314.80 C283.13 314.46 276.97 314.49 270.00 314.40 C259.93 314.27 245.40 314.33 233.10 314.30" fill="none" stroke="#000" stroke-width="1.60" stroke-linejoin="round"/>
<path d="M233.10 311.60 C245.40 311.60 259.57 311.57 270.00 311.60 C277.68 311.62 284.02 311.69 290.00 311.70 C294.86 311.71 299.99 312.43 303.20 311.70 C305.19 311.25 306.61 310.57 307.80 309.50 C308.95 308.47 309.59 307.02 310.30 305.50 C311.13 303.74 311.73 301.63 312.30 299.50 C312.92 297.16 313.32 294.79 313.80 292.00 C314.40 288.52 314.89 284.09 315.50 280.20 C316.09 276.39 316.70 271.47 317.40 268.90 C317.78 267.52 318.05 266.62 318.60 265.80 C319.06 265.12 319.72 264.23 320.30 264.20 C320.85 264.17 321.56 264.87 322.00 265.50 C322.57 266.31 322.80 267.46 323.10 268.90 C323.59 271.25 323.62 275.05 324.00 278.40 C324.43 282.19 324.86 287.19 325.60 290.50 C326.13 292.87 326.78 294.91 327.50 296.50 C328.02 297.65 328.24 298.50 329.20 299.30 C330.66 300.51 333.47 301.43 336.30 302.00 C340.17 302.78 345.51 302.36 350.50 302.50 C356.07 302.66 362.63 302.56 368.20 302.90 C373.20 303.20 379.53 303.52 382.40 304.30 C383.74 304.66 384.56 304.96 385.20 305.60 C385.76 306.17 386.02 306.93 386.20 307.80 C386.43 308.91 386.35 310.63 386.10 311.80 C385.89 312.78 385.80 313.69 385.00 314.40 C383.62 315.62 380.22 316.08 377.00 316.70 C372.29 317.61 365.20 317.85 359.30 318.50 C353.40 319.15 346.96 319.70 341.60 320.60 C337.08 321.36 332.66 321.90 329.20 323.30 C326.39 324.44 323.79 326.15 322.10 327.70 C320.88 328.82 320.35 329.92 319.50 331.20 C318.54 332.65 317.74 334.63 316.70 336.00 C315.78 337.21 314.74 339.10 313.70 339.10 C312.58 339.10 311.30 336.92 310.20 335.50 C308.91 333.83 307.75 331.68 306.60 329.60 C305.37 327.37 304.36 324.59 303.10 322.50 C302.01 320.69 301.01 318.99 299.60 317.70 C298.23 316.44 296.63 315.44 294.80 314.80 C292.73 314.08 290.60 314.12 287.70 313.90 C283.13 313.56 276.97 313.59 270.00 313.50 C259.93 313.37 245.40 313.43 233.10 313.40" fill="none" stroke="#1CB2EE" stroke-width="1.90" stroke-linejoin="round"/>
<path d="M314.0 298.2V338.5" fill="none" stroke="#FF0000" stroke-width="1.6" stroke-dasharray="2.2 1.45"/>
<path d="M322.7 258.5V330.5" fill="none" stroke="#FF0000" stroke-width="1.6" stroke-dasharray="2.2 1.45"/>
<path d="M314.0 305.6H322.7" fill="none" stroke="#FF0000" stroke-width="1.6" stroke-dasharray="2.2 1.45"/>
<path d="M46.6 377.6V500.3H201.4" fill="none" stroke="#000" stroke-width="1.50"/>
<path d="M46.6 388.9h2.9" stroke="#000" stroke-width="1.50"/>
<text x="43.8" y="391.3" font-size="7.00" text-anchor="end">1.2</text>
<path d="M46.6 411.2h2.9" stroke="#000" stroke-width="1.50"/>
<text x="43.8" y="413.6" font-size="7.00" text-anchor="end">0.8</text>
<path d="M46.6 433.5h2.9" stroke="#000" stroke-width="1.50"/>
<text x="43.8" y="435.9" font-size="7.00" text-anchor="end">0.4</text>
<path d="M46.6 455.8h2.9" stroke="#000" stroke-width="1.50"/>
<text x="43.8" y="458.2" font-size="7.00" text-anchor="end">0.0</text>
<path d="M46.6 478.1h2.9" stroke="#000" stroke-width="1.50"/>
<text x="43.8" y="480.5" font-size="7.00" text-anchor="end"><tspan font-size="8">−</tspan><tspan dx="0.6">0.4</tspan></text>
<path d="M46.6 500.4h2.9" stroke="#000" stroke-width="1.50"/>
<text x="43.8" y="502.8" font-size="7.00" text-anchor="end"><tspan font-size="8">−</tspan><tspan dx="0.6">0.8</tspan></text>
<path d="M46.6 500.3v-2.9" stroke="#000" stroke-width="1.50"/>
<text x="47.6" y="510.4" font-size="7.00" text-anchor="middle">2.8</text>
<path d="M82.6 500.3v-2.9" stroke="#000" stroke-width="1.50"/>
<text x="82.4" y="510.4" font-size="7.00" text-anchor="middle">3.2</text>
<path d="M118.3 500.3v-2.9" stroke="#000" stroke-width="1.50"/>
<text x="118.8" y="510.4" font-size="7.00" text-anchor="middle">3.6</text>
<path d="M153.7 500.3v-2.9" stroke="#000" stroke-width="1.50"/>
<text x="154.9" y="510.4" font-size="7.00" text-anchor="middle">4.0</text>
<path d="M189.7 500.3v-2.9" stroke="#000" stroke-width="1.50"/>
<text x="192.8" y="510.4" font-size="7.00" text-anchor="middle">4.4</text>
<text x="0" y="0" font-size="7.50" text-anchor="middle" transform="translate(31.6 437.7) rotate(-90)">Current（A）</text>
<text x="131.8" y="521.4" font-size="7.50" text-anchor="middle">Voltage（V）</text>
<text x="75.2" y="389.7" font-size="7.30" text-anchor="start">SC-NCM622-1.0%WO3</text>
<path d="M56.1 404.0H71.0" stroke="#000" stroke-width="1.5"/>
<text x="72.4" y="406.5" font-size="7.20" text-anchor="start">First cycle</text>
<path d="M56.1 412.5H71.0" stroke="#C83C36" stroke-width="1.5"/>
<text x="72.4" y="415.0" font-size="7.20" text-anchor="start">Second cycle</text>
<path d="M56.1 422.9H71.0" stroke="#1CB2EE" stroke-width="1.5"/>
<text x="72.4" y="425.4" font-size="7.20" text-anchor="start">Third cycle</text>
<text x="56.8" y="443.3" font-size="7.30" text-anchor="start">0.1mV/s</text>
<text x="141.1" y="457.5" font-size="7.00" text-anchor="start">△E=0.097V</text>
<path d="M46.60 455.20 C57.73 455.20 68.94 455.22 80.00 455.20 C90.91 455.18 106.33 456.29 112.50 455.10 C115.08 454.60 116.36 454.22 117.80 453.00 C119.39 451.66 120.40 449.11 121.40 447.10 C122.35 445.17 123.08 443.45 123.70 441.20 C124.47 438.38 124.77 434.68 125.30 431.40 C125.84 428.08 126.25 424.65 126.90 421.40 C127.53 418.26 128.48 415.24 129.10 412.20 C129.70 409.24 130.09 405.94 130.60 403.40 C130.99 401.43 131.20 399.58 131.80 398.20 C132.25 397.16 132.79 396.23 133.50 395.70 C134.12 395.24 134.96 395.00 135.70 395.00 C136.46 395.00 137.35 395.24 138.00 395.70 C138.71 396.20 139.24 397.13 139.70 398.00 C140.20 398.95 140.54 399.85 140.80 401.20 C141.21 403.37 141.06 406.76 141.20 409.90 C141.36 413.62 140.94 418.49 141.70 422.10 C142.34 425.16 143.36 427.72 144.90 430.30 C146.56 433.08 148.58 436.16 151.50 438.10 C154.87 440.34 159.87 441.14 164.50 442.20 C169.61 443.37 175.26 443.84 180.90 444.60 C186.88 445.41 198.00 445.32 199.40 446.90 C199.81 447.36 199.40 447.76 199.40 448.50 C199.40 450.15 199.70 454.60 199.40 456.50 C199.23 457.59 199.08 458.32 198.60 459.00 C198.12 459.68 197.32 460.10 196.50 460.60 C195.51 461.21 194.55 461.72 193.00 462.30 C190.21 463.33 185.27 464.59 180.90 465.50 C175.87 466.54 169.80 467.18 164.50 468.00 C159.52 468.78 154.07 469.43 150.00 470.30 C146.98 470.94 144.28 471.49 142.20 472.40 C140.65 473.08 139.48 473.71 138.40 474.80 C137.20 476.01 136.40 477.76 135.50 479.50 C134.48 481.48 133.63 483.89 132.70 486.10 C131.76 488.32 130.84 491.13 129.90 492.80 C129.27 493.91 128.72 494.81 128.00 495.40 C127.42 495.88 126.73 496.30 126.10 496.30 C125.47 496.30 124.76 495.94 124.20 495.40 C123.42 494.66 122.96 493.20 122.30 491.80 C121.42 489.95 120.27 487.51 119.50 485.20 C118.69 482.79 118.42 480.01 117.60 477.60 C116.81 475.29 115.94 473.09 114.70 471.00 C113.42 468.84 111.88 466.53 110.00 464.90 C108.16 463.31 106.15 462.20 103.60 461.30 C100.35 460.15 96.35 459.70 91.80 459.30 C85.66 458.75 77.40 459.13 70.00 459.10 C62.34 459.06 54.40 459.10 46.60 459.10" fill="none" stroke="#000" stroke-width="1.50" stroke-linejoin="round"/>
<path d="M46.60 455.80 C57.73 455.80 68.94 455.82 80.00 455.80 C90.91 455.78 106.33 456.89 112.50 455.70 C115.08 455.20 116.36 454.82 117.80 453.60 C119.39 452.26 120.40 449.71 121.40 447.70 C122.35 445.77 123.08 444.05 123.70 441.80 C124.47 438.98 124.77 435.28 125.30 432.00 C125.84 428.68 126.25 425.25 126.90 422.00 C127.53 418.86 128.48 415.84 129.10 412.80 C129.70 409.84 130.09 406.54 130.60 404.00 C130.99 402.03 131.20 400.18 131.80 398.80 C132.25 397.76 132.79 396.83 133.50 396.30 C134.12 395.84 134.96 395.60 135.70 395.60 C136.46 395.60 137.35 395.84 138.00 396.30 C138.71 396.80 139.24 397.73 139.70 398.60 C140.20 399.55 140.54 400.45 140.80 401.80 C141.21 403.97 141.06 407.36 141.20 410.50 C141.36 414.22 140.94 419.09 141.70 422.70 C142.34 425.76 143.31 428.46 144.90 430.90 C146.54 433.41 148.67 435.78 151.50 437.50 C154.92 439.57 159.87 440.54 164.50 441.60 C169.61 442.77 175.26 443.24 180.90 444.00 C186.88 444.81 197.53 444.53 199.40 446.30 C200.05 446.91 199.71 447.53 199.80 448.50 C199.96 450.33 200.18 454.48 199.80 456.50 C199.56 457.80 199.20 458.80 198.60 459.60 C198.06 460.32 197.32 460.70 196.50 461.20 C195.51 461.81 194.55 462.32 193.00 462.90 C190.21 463.93 185.27 465.19 180.90 466.10 C175.87 467.14 169.80 467.78 164.50 468.60 C159.52 469.38 154.10 470.34 150.00 470.90 C147.01 471.31 144.27 471.07 142.20 471.80 C140.63 472.35 139.48 473.11 138.40 474.20 C137.20 475.41 136.40 477.16 135.50 478.90 C134.48 480.88 133.63 483.29 132.70 485.50 C131.76 487.72 130.84 490.53 129.90 492.20 C129.27 493.31 128.72 494.21 128.00 494.80 C127.42 495.28 126.73 495.70 126.10 495.70 C125.47 495.70 124.76 495.34 124.20 494.80 C123.42 494.06 122.96 492.60 122.30 491.20 C121.42 489.35 120.27 486.91 119.50 484.60 C118.69 482.19 118.42 479.41 117.60 477.00 C116.81 474.69 115.94 472.49 114.70 470.40 C113.42 468.24 111.88 465.93 110.00 464.30 C108.16 462.71 106.15 461.60 103.60 460.70 C100.35 459.55 96.35 459.10 91.80 458.70 C85.66 458.15 77.40 458.53 70.00 458.50 C62.34 458.46 54.40 458.50 46.60 458.50" fill="none" stroke="#1CB2EE" stroke-width="1.90" stroke-linejoin="round"/>
<path d="M126.5 430.4V486.5" fill="none" stroke="#FF0000" stroke-width="1.6" stroke-dasharray="2.2 1.45"/>
<path d="M136.4 389.2V472.3" fill="none" stroke="#FF0000" stroke-width="1.6" stroke-dasharray="2.2 1.45"/>
<path d="M126.5 453.8H136.4" fill="none" stroke="#FF0000" stroke-width="1.6" stroke-dasharray="2.2 1.45"/>
<path d="M234.2 377.9V500.3H389.0" fill="none" stroke="#000" stroke-width="1.50"/>
<path d="M234.2 388.3h2.9" stroke="#000" stroke-width="1.50"/>
<text x="231.4" y="390.7" font-size="7.00" text-anchor="end">1.2</text>
<path d="M234.2 410.6h2.9" stroke="#000" stroke-width="1.50"/>
<text x="231.4" y="413.0" font-size="7.00" text-anchor="end">0.8</text>
<path d="M234.2 433.4h2.9" stroke="#000" stroke-width="1.50"/>
<text x="231.4" y="435.8" font-size="7.00" text-anchor="end">0.4</text>
<path d="M234.2 455.5h2.9" stroke="#000" stroke-width="1.50"/>
<text x="231.4" y="457.9" font-size="7.00" text-anchor="end">0.0</text>
<path d="M234.2 478.0h2.9" stroke="#000" stroke-width="1.50"/>
<text x="231.4" y="480.4" font-size="7.00" text-anchor="end"><tspan font-size="8">−</tspan><tspan dx="0.6">0.4</tspan></text>
<path d="M234.2 500.2h2.9" stroke="#000" stroke-width="1.50"/>
<text x="231.4" y="502.6" font-size="7.00" text-anchor="end"><tspan font-size="8">−</tspan><tspan dx="0.6">0.8</tspan></text>
<path d="M234.2 500.3v-2.9" stroke="#000" stroke-width="1.50"/>
<text x="235.4" y="510.4" font-size="7.00" text-anchor="middle">2.8</text>
<path d="M269.6 500.3v-2.9" stroke="#000" stroke-width="1.50"/>
<text x="269.2" y="510.4" font-size="7.00" text-anchor="middle">3.2</text>
<path d="M304.9 500.3v-2.9" stroke="#000" stroke-width="1.50"/>
<text x="305.6" y="510.4" font-size="7.00" text-anchor="middle">3.6</text>
<path d="M339.9 500.3v-2.9" stroke="#000" stroke-width="1.50"/>
<text x="341.6" y="510.4" font-size="7.00" text-anchor="middle">4.0</text>
<path d="M376.1 500.3v-2.9" stroke="#000" stroke-width="1.50"/>
<text x="379.5" y="510.4" font-size="7.00" text-anchor="middle">4.4</text>
<text x="0" y="0" font-size="7.50" text-anchor="middle" transform="translate(218.8 437.7) rotate(-90)">Current（A）</text>
<text x="319.4" y="521.4" font-size="7.50" text-anchor="middle">Voltage（V）</text>
<text x="262.8" y="389.7" font-size="7.30" text-anchor="start">SC-NCM622-1.5%WO3</text>
<path d="M243.9 404.0H258.8" stroke="#000" stroke-width="1.5"/>
<text x="260.1" y="406.5" font-size="7.20" text-anchor="start">First cycle</text>
<path d="M243.9 412.5H258.8" stroke="#C83C36" stroke-width="1.5"/>
<text x="260.1" y="415.0" font-size="7.20" text-anchor="start">Second cycle</text>
<path d="M243.9 422.9H258.8" stroke="#1CB2EE" stroke-width="1.5"/>
<text x="260.1" y="425.4" font-size="7.20" text-anchor="start">Third cycle</text>
<text x="244.4" y="437.6" font-size="7.30" text-anchor="start">0.1mV/s</text>
<text x="324.7" y="457.5" font-size="7.00" text-anchor="start">△E=0.132V</text>
<path d="M234.20 454.95 C242.80 454.95 251.95 454.93 260.00 454.95 C267.09 454.97 273.23 455.02 280.00 455.05 C286.99 455.08 296.98 455.94 301.30 455.15 C303.29 454.79 304.21 454.51 305.50 453.55 C307.11 452.35 308.63 450.02 309.80 447.95 C311.02 445.80 311.82 443.31 312.60 440.85 C313.40 438.31 313.91 435.70 314.50 432.95 C315.15 429.96 315.72 426.69 316.30 423.55 C316.88 420.39 317.33 416.82 318.00 414.05 C318.53 411.83 319.07 409.57 319.80 408.15 C320.28 407.22 320.78 406.48 321.40 406.05 C321.91 405.70 322.55 405.54 323.10 405.55 C323.62 405.56 324.19 405.70 324.60 406.05 C325.10 406.48 325.39 407.18 325.70 408.15 C326.29 409.97 326.42 413.60 326.90 416.45 C327.41 419.49 327.98 422.83 328.70 425.85 C329.39 428.72 330.24 431.95 331.10 434.15 C331.70 435.69 332.18 436.66 333.00 437.95 C333.97 439.47 335.14 441.52 336.70 442.60 C338.25 443.67 339.80 443.87 342.30 444.40 C347.02 445.40 356.74 446.01 363.20 446.60 C368.78 447.11 374.82 447.55 378.80 447.80 C381.27 447.96 383.60 448.02 384.80 448.10 C385.31 448.14 385.72 447.95 385.90 448.20 C386.22 448.64 385.57 450.41 385.20 451.50 C384.81 452.65 384.34 453.85 383.60 454.90 C382.80 456.03 381.77 457.09 380.50 458.00 C379.00 459.07 377.40 459.83 375.00 460.70 C370.95 462.18 363.79 464.03 358.00 464.90 C352.13 465.78 344.70 465.50 340.00 465.90 C336.96 466.16 334.96 466.37 332.50 466.75 C330.09 467.12 327.40 467.32 325.40 468.15 C323.71 468.85 322.26 469.87 321.10 471.05 C319.98 472.18 319.37 473.68 318.50 475.05 C317.60 476.48 316.69 478.15 315.80 479.45 C315.06 480.54 314.41 481.67 313.60 482.35 C312.95 482.90 312.21 483.38 311.50 483.45 C310.84 483.51 310.15 483.23 309.50 482.85 C308.70 482.39 307.93 481.59 307.20 480.65 C306.24 479.41 305.40 477.62 304.50 475.85 C303.43 473.76 302.55 471.07 301.30 468.85 C300.05 466.64 298.74 464.23 297.00 462.55 C295.37 460.97 293.63 459.84 291.30 458.95 C288.26 457.79 284.32 457.42 280.00 457.05 C274.30 456.56 267.09 456.97 260.00 456.95 C251.95 456.93 242.80 456.95 234.20 456.95" fill="none" stroke="#000" stroke-width="1.50" stroke-linejoin="round"/>
<path d="M234.20 454.80 C242.80 454.80 251.95 454.78 260.00 454.80 C267.09 454.82 273.23 454.87 280.00 454.90 C286.99 454.93 296.98 455.79 301.30 455.00 C303.29 454.64 304.21 454.36 305.50 453.40 C307.11 452.20 308.63 449.87 309.80 447.80 C311.02 445.65 311.82 443.16 312.60 440.70 C313.40 438.16 313.91 435.55 314.50 432.80 C315.15 429.81 315.72 426.54 316.30 423.40 C316.88 420.24 317.33 416.67 318.00 413.90 C318.53 411.68 319.07 409.42 319.80 408.00 C320.28 407.07 320.78 406.33 321.40 405.90 C321.91 405.55 322.55 405.39 323.10 405.40 C323.62 405.41 324.19 405.55 324.60 405.90 C325.10 406.33 325.39 407.03 325.70 408.00 C326.29 409.82 326.42 413.45 326.90 416.30 C327.41 419.34 327.98 422.68 328.70 425.70 C329.39 428.57 330.24 431.80 331.10 434.00 C331.70 435.54 332.16 436.56 333.00 437.80 C333.96 439.23 335.18 441.00 336.70 442.00 C338.26 443.02 339.80 443.27 342.30 443.80 C347.02 444.80 356.74 445.41 363.20 446.00 C368.78 446.51 374.82 446.95 378.80 447.20 C381.27 447.36 383.49 447.17 384.80 447.50 C385.49 447.67 386.07 447.75 386.30 448.20 C386.62 448.85 385.99 450.37 385.60 451.50 C385.15 452.80 384.46 454.31 383.60 455.50 C382.75 456.68 381.77 457.69 380.50 458.60 C379.00 459.67 377.40 460.43 375.00 461.30 C370.95 462.78 363.79 464.63 358.00 465.50 C352.13 466.38 344.71 466.24 340.00 466.50 C336.96 466.67 334.96 466.59 332.50 466.90 C330.09 467.20 327.40 467.47 325.40 468.30 C323.71 469.00 322.26 470.02 321.10 471.20 C319.98 472.33 319.37 473.83 318.50 475.20 C317.60 476.63 316.69 478.30 315.80 479.60 C315.06 480.69 314.41 481.82 313.60 482.50 C312.95 483.05 312.21 483.53 311.50 483.60 C310.84 483.66 310.15 483.38 309.50 483.00 C308.70 482.54 307.93 481.74 307.20 480.80 C306.24 479.56 305.40 477.77 304.50 476.00 C303.43 473.91 302.55 471.22 301.30 469.00 C300.05 466.79 298.74 464.38 297.00 462.70 C295.37 461.12 293.63 459.99 291.30 459.10 C288.26 457.94 284.32 457.57 280.00 457.20 C274.30 456.71 267.09 457.12 260.00 457.10 C251.95 457.08 242.80 457.10 234.20 457.10" fill="none" stroke="#1CB2EE" stroke-width="1.90" stroke-linejoin="round"/>
<path d="M310.5 422.8V486.8" fill="none" stroke="#FF0000" stroke-width="1.6" stroke-dasharray="2.2 1.45"/>
<path d="M322.7 391.5V472.6" fill="none" stroke="#FF0000" stroke-width="1.6" stroke-dasharray="2.2 1.45"/>
<path d="M310.5 453.5H322.7" fill="none" stroke="#FF0000" stroke-width="1.6" stroke-dasharray="2.2 1.45"/>
</svg>
</body></html>
